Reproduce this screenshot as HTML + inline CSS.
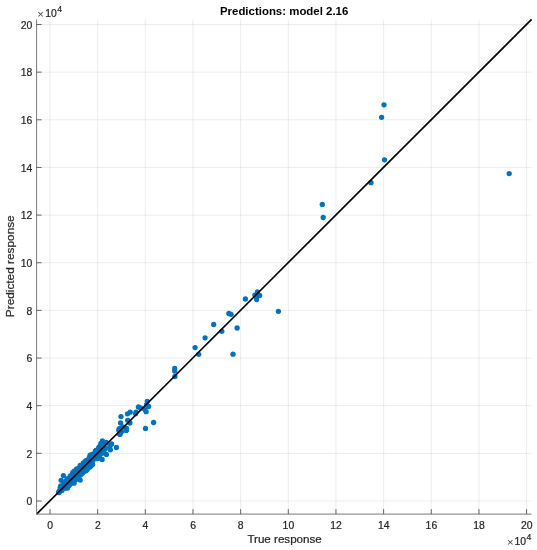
<!DOCTYPE html>
<html><head><meta charset="utf-8"><title>Predictions: model 2.16</title>
<style>html,body{margin:0;padding:0;background:#fff}svg{display:block}</style>
</head><body>
<svg width="537" height="550" viewBox="0 0 537 550">
<rect width="537" height="550" fill="#fff"/>
<path d="M50.0 19.4V514.1M97.66 19.4V514.1M145.32 19.4V514.1M192.98 19.4V514.1M240.64 19.4V514.1M288.3 19.4V514.1M335.96 19.4V514.1M383.62 19.4V514.1M431.28 19.4V514.1M478.94 19.4V514.1M526.6 19.4V514.1" stroke="#000" stroke-opacity="0.095" stroke-width="0.8" fill="none"/>
<path d="M36.6 501.0H531.6M36.6 453.35H531.6M36.6 405.7H531.6M36.6 358.05H531.6M36.6 310.4H531.6M36.6 262.75H531.6M36.6 215.1H531.6M36.6 167.45H531.6M36.6 119.8H531.6M36.6 72.15H531.6M36.6 24.5H531.6" stroke="#000" stroke-opacity="0.095" stroke-width="0.8" fill="none"/>
<g fill="#0072bd">
<circle cx="384.0" cy="104.8" r="2.65"/>
<circle cx="381.6" cy="117.3" r="2.65"/>
<circle cx="384.5" cy="159.8" r="2.65"/>
<circle cx="371.0" cy="182.7" r="2.65"/>
<circle cx="322.3" cy="204.4" r="2.65"/>
<circle cx="323.2" cy="217.5" r="2.65"/>
<circle cx="509.2" cy="173.6" r="2.65"/>
<circle cx="278.4" cy="311.3" r="2.65"/>
<circle cx="257.4" cy="292.0" r="2.65"/>
<circle cx="259.6" cy="295.4" r="2.65"/>
<circle cx="254.9" cy="295.1" r="2.65"/>
<circle cx="256.8" cy="297.3" r="2.65"/>
<circle cx="256.6" cy="299.6" r="2.65"/>
<circle cx="245.4" cy="299.0" r="2.65"/>
<circle cx="228.9" cy="313.5" r="2.65"/>
<circle cx="231.1" cy="314.3" r="2.65"/>
<circle cx="237.1" cy="328.0" r="2.65"/>
<circle cx="213.7" cy="324.5" r="2.65"/>
<circle cx="221.8" cy="331.3" r="2.65"/>
<circle cx="205.1" cy="337.8" r="2.65"/>
<circle cx="233.0" cy="354.2" r="2.65"/>
<circle cx="195.1" cy="347.6" r="2.65"/>
<circle cx="198.7" cy="354.3" r="2.65"/>
<circle cx="174.7" cy="368.4" r="2.65"/>
<circle cx="174.7" cy="371.0" r="2.65"/>
<circle cx="174.9" cy="376.5" r="2.65"/>
<circle cx="153.6" cy="422.5" r="2.65"/>
<circle cx="145.5" cy="428.4" r="2.65"/>
<circle cx="147.3" cy="401.3" r="2.65"/>
<circle cx="148.6" cy="406.5" r="2.65"/>
<circle cx="146.5" cy="404.8" r="2.65"/>
<circle cx="146.1" cy="411.7" r="2.65"/>
<circle cx="144.8" cy="409.6" r="2.65"/>
<circle cx="138.4" cy="406.9" r="2.65"/>
<circle cx="140.6" cy="408.0" r="2.65"/>
<circle cx="136.0" cy="412.1" r="2.65"/>
<circle cx="135.6" cy="413.7" r="2.65"/>
<circle cx="130.2" cy="412.2" r="2.65"/>
<circle cx="127.5" cy="413.8" r="2.65"/>
<circle cx="121.0" cy="416.6" r="2.65"/>
<circle cx="127.7" cy="420.3" r="2.65"/>
<circle cx="129.9" cy="423.0" r="2.65"/>
<circle cx="120.6" cy="422.9" r="2.65"/>
<circle cx="126.5" cy="428.5" r="2.65"/>
<circle cx="126.0" cy="430.4" r="2.65"/>
<circle cx="119.5" cy="428.7" r="2.65"/>
<circle cx="118.9" cy="430.6" r="2.65"/>
<circle cx="121.4" cy="431.7" r="2.65"/>
<circle cx="119.7" cy="434.3" r="2.65"/>
<circle cx="116.4" cy="447.5" r="2.65"/>
<circle cx="102.4" cy="440.9" r="2.65"/>
<circle cx="100.9" cy="443.5" r="2.65"/>
<circle cx="111.6" cy="444.0" r="2.65"/>
<circle cx="110.4" cy="449.8" r="2.65"/>
<circle cx="106.4" cy="454.4" r="2.65"/>
<circle cx="102.1" cy="459.5" r="2.65"/>
<circle cx="106.2" cy="442.5" r="2.65"/>
<circle cx="109.8" cy="446.4" r="2.65"/>
<circle cx="104.8" cy="448.8" r="2.65"/>
<circle cx="103.6" cy="451.6" r="2.65"/>
<circle cx="120.0" cy="434.3" r="2.65"/>
<circle cx="119.1" cy="429.2" r="2.65"/>
<circle cx="126.6" cy="430.1" r="2.65"/>
<circle cx="122.8" cy="426.9" r="2.65"/>
<circle cx="63.4" cy="475.6" r="2.65"/>
<circle cx="61.1" cy="480.3" r="2.65"/>
<circle cx="80.2" cy="480.1" r="2.65"/>
<circle cx="74.1" cy="483.2" r="2.65"/>
<circle cx="58.8" cy="492.1" r="2.65"/>
<circle cx="59.1" cy="492.5" r="2.65"/>
<circle cx="59.2" cy="492.1" r="2.65"/>
<circle cx="59.6" cy="490.7" r="2.65"/>
<circle cx="59.5" cy="490.8" r="2.65"/>
<circle cx="59.3" cy="491.1" r="2.65"/>
<circle cx="61.0" cy="490.0" r="2.65"/>
<circle cx="60.3" cy="490.2" r="2.65"/>
<circle cx="61.3" cy="490.1" r="2.65"/>
<circle cx="61.6" cy="489.7" r="2.65"/>
<circle cx="61.8" cy="490.4" r="2.65"/>
<circle cx="61.8" cy="490.1" r="2.65"/>
<circle cx="60.3" cy="487.3" r="2.65"/>
<circle cx="61.7" cy="487.5" r="2.65"/>
<circle cx="60.9" cy="487.1" r="2.65"/>
<circle cx="63.7" cy="488.6" r="2.65"/>
<circle cx="63.0" cy="488.4" r="2.65"/>
<circle cx="60.8" cy="486.0" r="2.65"/>
<circle cx="64.7" cy="488.0" r="2.65"/>
<circle cx="63.1" cy="486.1" r="2.65"/>
<circle cx="63.5" cy="487.0" r="2.65"/>
<circle cx="66.3" cy="487.5" r="2.65"/>
<circle cx="63.6" cy="485.0" r="2.65"/>
<circle cx="65.1" cy="486.1" r="2.65"/>
<circle cx="66.4" cy="486.7" r="2.65"/>
<circle cx="67.5" cy="488.0" r="2.65"/>
<circle cx="65.3" cy="484.8" r="2.65"/>
<circle cx="64.7" cy="483.0" r="2.65"/>
<circle cx="64.3" cy="482.3" r="2.65"/>
<circle cx="67.6" cy="485.8" r="2.65"/>
<circle cx="68.8" cy="485.8" r="2.65"/>
<circle cx="68.1" cy="484.7" r="2.65"/>
<circle cx="67.5" cy="484.3" r="2.65"/>
<circle cx="69.9" cy="484.3" r="2.65"/>
<circle cx="67.9" cy="482.8" r="2.65"/>
<circle cx="66.0" cy="480.8" r="2.65"/>
<circle cx="69.8" cy="482.5" r="2.65"/>
<circle cx="70.1" cy="483.9" r="2.65"/>
<circle cx="68.3" cy="481.6" r="2.65"/>
<circle cx="67.2" cy="479.2" r="2.65"/>
<circle cx="67.6" cy="480.2" r="2.65"/>
<circle cx="67.6" cy="479.1" r="2.65"/>
<circle cx="68.4" cy="479.1" r="2.65"/>
<circle cx="70.1" cy="479.8" r="2.65"/>
<circle cx="68.3" cy="478.7" r="2.65"/>
<circle cx="71.7" cy="479.8" r="2.65"/>
<circle cx="72.9" cy="481.1" r="2.65"/>
<circle cx="70.0" cy="478.9" r="2.65"/>
<circle cx="71.6" cy="478.1" r="2.65"/>
<circle cx="73.8" cy="481.5" r="2.65"/>
<circle cx="70.2" cy="477.7" r="2.65"/>
<circle cx="71.4" cy="477.0" r="2.65"/>
<circle cx="73.0" cy="478.9" r="2.65"/>
<circle cx="70.3" cy="476.0" r="2.65"/>
<circle cx="73.0" cy="476.8" r="2.65"/>
<circle cx="75.8" cy="479.4" r="2.65"/>
<circle cx="73.7" cy="477.4" r="2.65"/>
<circle cx="74.8" cy="477.8" r="2.65"/>
<circle cx="76.4" cy="478.3" r="2.65"/>
<circle cx="76.3" cy="478.2" r="2.65"/>
<circle cx="74.5" cy="475.4" r="2.65"/>
<circle cx="73.3" cy="473.9" r="2.65"/>
<circle cx="72.7" cy="474.1" r="2.65"/>
<circle cx="74.0" cy="473.7" r="2.65"/>
<circle cx="74.7" cy="474.6" r="2.65"/>
<circle cx="72.8" cy="472.5" r="2.65"/>
<circle cx="74.3" cy="472.1" r="2.65"/>
<circle cx="74.3" cy="471.2" r="2.65"/>
<circle cx="77.3" cy="475.3" r="2.65"/>
<circle cx="76.0" cy="472.2" r="2.65"/>
<circle cx="76.5" cy="473.1" r="2.65"/>
<circle cx="80.1" cy="475.3" r="2.65"/>
<circle cx="78.2" cy="472.6" r="2.65"/>
<circle cx="75.6" cy="470.6" r="2.65"/>
<circle cx="77.3" cy="472.0" r="2.65"/>
<circle cx="81.0" cy="474.2" r="2.65"/>
<circle cx="76.7" cy="468.8" r="2.65"/>
<circle cx="79.1" cy="472.4" r="2.65"/>
<circle cx="79.9" cy="471.8" r="2.65"/>
<circle cx="80.6" cy="471.0" r="2.65"/>
<circle cx="82.4" cy="473.2" r="2.65"/>
<circle cx="79.3" cy="469.0" r="2.65"/>
<circle cx="79.1" cy="468.2" r="2.65"/>
<circle cx="81.3" cy="470.3" r="2.65"/>
<circle cx="80.4" cy="468.8" r="2.65"/>
<circle cx="83.9" cy="471.1" r="2.65"/>
<circle cx="84.0" cy="471.4" r="2.65"/>
<circle cx="84.6" cy="470.5" r="2.65"/>
<circle cx="80.8" cy="467.1" r="2.65"/>
<circle cx="81.2" cy="468.3" r="2.65"/>
<circle cx="80.2" cy="465.3" r="2.65"/>
<circle cx="82.0" cy="466.4" r="2.65"/>
<circle cx="85.9" cy="470.8" r="2.65"/>
<circle cx="87.1" cy="469.4" r="2.65"/>
<circle cx="86.7" cy="470.0" r="2.65"/>
<circle cx="82.2" cy="465.7" r="2.65"/>
<circle cx="82.8" cy="464.8" r="2.65"/>
<circle cx="85.9" cy="466.8" r="2.65"/>
<circle cx="86.9" cy="468.4" r="2.65"/>
<circle cx="86.8" cy="466.3" r="2.65"/>
<circle cx="83.3" cy="463.0" r="2.65"/>
<circle cx="88.3" cy="467.8" r="2.65"/>
<circle cx="87.9" cy="466.3" r="2.65"/>
<circle cx="84.8" cy="462.6" r="2.65"/>
<circle cx="85.7" cy="463.5" r="2.65"/>
<circle cx="90.0" cy="466.9" r="2.65"/>
<circle cx="87.0" cy="463.0" r="2.65"/>
<circle cx="88.3" cy="465.6" r="2.65"/>
<circle cx="85.5" cy="461.2" r="2.65"/>
<circle cx="90.7" cy="465.4" r="2.65"/>
<circle cx="86.2" cy="460.8" r="2.65"/>
<circle cx="91.9" cy="465.1" r="2.65"/>
<circle cx="88.0" cy="461.4" r="2.65"/>
<circle cx="86.2" cy="460.6" r="2.65"/>
<circle cx="92.6" cy="464.3" r="2.65"/>
<circle cx="90.2" cy="461.4" r="2.65"/>
<circle cx="89.6" cy="460.9" r="2.65"/>
<circle cx="92.2" cy="463.0" r="2.65"/>
<circle cx="88.8" cy="459.5" r="2.65"/>
<circle cx="89.0" cy="459.2" r="2.65"/>
<circle cx="89.7" cy="458.6" r="2.65"/>
<circle cx="89.4" cy="457.4" r="2.65"/>
<circle cx="90.3" cy="459.1" r="2.65"/>
<circle cx="92.9" cy="459.4" r="2.65"/>
<circle cx="91.9" cy="458.4" r="2.65"/>
<circle cx="92.1" cy="459.2" r="2.65"/>
<circle cx="92.6" cy="458.9" r="2.65"/>
<circle cx="92.2" cy="458.3" r="2.65"/>
<circle cx="90.1" cy="455.2" r="2.65"/>
<circle cx="91.7" cy="455.6" r="2.65"/>
<circle cx="95.0" cy="458.9" r="2.65"/>
<circle cx="92.6" cy="456.5" r="2.65"/>
<circle cx="95.0" cy="456.9" r="2.65"/>
<circle cx="92.1" cy="454.4" r="2.65"/>
<circle cx="92.8" cy="455.5" r="2.65"/>
<circle cx="96.9" cy="457.6" r="2.65"/>
<circle cx="95.8" cy="456.1" r="2.65"/>
<circle cx="97.7" cy="458.5" r="2.65"/>
<circle cx="96.7" cy="455.9" r="2.65"/>
<circle cx="96.3" cy="455.1" r="2.65"/>
<circle cx="95.8" cy="454.9" r="2.65"/>
<circle cx="97.1" cy="453.9" r="2.65"/>
<circle cx="98.3" cy="455.3" r="2.65"/>
<circle cx="99.3" cy="457.2" r="2.65"/>
<circle cx="98.4" cy="453.6" r="2.65"/>
<circle cx="99.4" cy="455.9" r="2.65"/>
<circle cx="95.3" cy="451.4" r="2.65"/>
<circle cx="95.9" cy="450.6" r="2.65"/>
<circle cx="96.2" cy="450.3" r="2.65"/>
<circle cx="99.9" cy="453.6" r="2.65"/>
<circle cx="97.4" cy="449.8" r="2.65"/>
<circle cx="99.5" cy="452.8" r="2.65"/>
<circle cx="101.3" cy="453.3" r="2.65"/>
<circle cx="98.8" cy="449.2" r="2.65"/>
<circle cx="99.3" cy="450.4" r="2.65"/>
<circle cx="102.5" cy="453.1" r="2.65"/>
<circle cx="98.9" cy="448.5" r="2.65"/>
<circle cx="100.5" cy="450.3" r="2.65"/>
<circle cx="98.9" cy="448.8" r="2.65"/>
<circle cx="102.1" cy="450.8" r="2.65"/>
<circle cx="101.6" cy="449.7" r="2.65"/>
<circle cx="98.9" cy="447.1" r="2.65"/>
<circle cx="102.8" cy="449.1" r="2.65"/>
<circle cx="100.4" cy="446.0" r="2.65"/>
<circle cx="104.0" cy="449.6" r="2.65"/>
<circle cx="100.8" cy="446.0" r="2.65"/>
<circle cx="100.9" cy="445.2" r="2.65"/>
<circle cx="101.6" cy="446.9" r="2.65"/>
<circle cx="103.7" cy="446.2" r="2.65"/>
<circle cx="105.2" cy="448.7" r="2.65"/>
<circle cx="102.4" cy="444.9" r="2.65"/>
</g>
<path d="M36.6 514.1L531.6 19.4" stroke="#000" stroke-width="1.65" fill="none"/>
<path d="M36.6 19.4V514.6M36.1 514.1H531.6" stroke="#7a7a7a" stroke-width="1" fill="none"/>
<path d="M50.0 514.1v-5M36.6 501.0h5M97.66 514.1v-5M36.6 453.35h5M145.32 514.1v-5M36.6 405.7h5M192.98 514.1v-5M36.6 358.05h5M240.64 514.1v-5M36.6 310.4h5M288.3 514.1v-5M36.6 262.75h5M335.96 514.1v-5M36.6 215.1h5M383.62 514.1v-5M36.6 167.45h5M431.28 514.1v-5M36.6 119.8h5M478.94 514.1v-5M36.6 72.15h5M526.6 514.1v-5M36.6 24.5h5" stroke="#444" stroke-width="0.8" fill="none"/>
<g font-family="'Liberation Sans', Arial, sans-serif" fill="#262626" stroke="#262626" stroke-width="0.22">
<text x="50.1" y="528.8" font-size="10.4" text-anchor="middle">0</text>
<text x="32.3" y="505.1" font-size="10.4" text-anchor="end">0</text>
<text x="97.8" y="528.8" font-size="10.4" text-anchor="middle">2</text>
<text x="32.3" y="457.5" font-size="10.4" text-anchor="end">2</text>
<text x="145.4" y="528.8" font-size="10.4" text-anchor="middle">4</text>
<text x="32.3" y="409.8" font-size="10.4" text-anchor="end">4</text>
<text x="193.1" y="528.8" font-size="10.4" text-anchor="middle">6</text>
<text x="32.3" y="362.2" font-size="10.4" text-anchor="end">6</text>
<text x="240.7" y="528.8" font-size="10.4" text-anchor="middle">8</text>
<text x="32.3" y="314.5" font-size="10.4" text-anchor="end">8</text>
<text x="288.4" y="528.8" font-size="10.4" text-anchor="middle">10</text>
<text x="32.3" y="266.9" font-size="10.4" text-anchor="end">10</text>
<text x="336.1" y="528.8" font-size="10.4" text-anchor="middle">12</text>
<text x="32.3" y="219.2" font-size="10.4" text-anchor="end">12</text>
<text x="383.7" y="528.8" font-size="10.4" text-anchor="middle">14</text>
<text x="32.3" y="171.5" font-size="10.4" text-anchor="end">14</text>
<text x="431.4" y="528.8" font-size="10.4" text-anchor="middle">16</text>
<text x="32.3" y="123.9" font-size="10.4" text-anchor="end">16</text>
<text x="479.0" y="528.8" font-size="10.4" text-anchor="middle">18</text>
<text x="32.3" y="76.3" font-size="10.4" text-anchor="end">18</text>
<text x="526.7" y="528.8" font-size="10.4" text-anchor="middle">20</text>
<text x="32.3" y="28.6" font-size="10.4" text-anchor="end">20</text>
<text x="284.15" y="15.1" font-size="11.4" font-weight="bold" text-anchor="middle" textLength="128.4" lengthAdjust="spacingAndGlyphs" fill="#000" stroke="none">Predictions: model 2.16</text>
<text x="284.6" y="543.3" font-size="11.5" text-anchor="middle" textLength="74.4" lengthAdjust="spacingAndGlyphs">True response</text>
<text transform="translate(14.2 266.25) rotate(-90)" font-size="11.6" text-anchor="middle" textLength="101.9" lengthAdjust="spacingAndGlyphs">Predicted response</text>
<text x="37.3" y="17.5" font-size="11.2" stroke="none" fill="#444">×</text>
<text x="45.2" y="16.9" font-size="10.4">10</text>
<text x="57.2" y="11.7" font-size="8.6">4</text>
<text x="507.0" y="546.4" font-size="11.2" stroke="none" fill="#444">×</text>
<text x="514.4" y="544.8" font-size="10.4">10</text>
<text x="526.4" y="539.6" font-size="8.6">4</text>
</g>
</svg>
</body></html>
